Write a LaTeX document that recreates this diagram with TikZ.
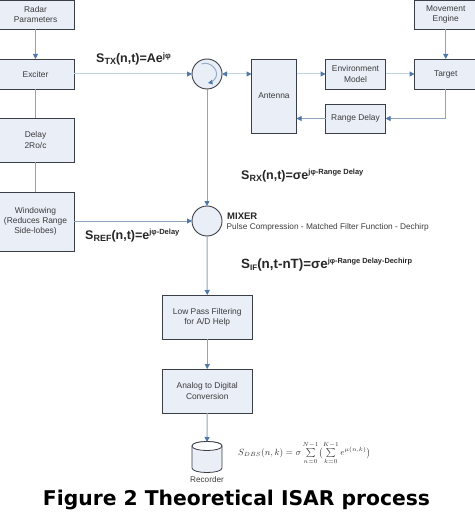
\documentclass[tikz,border=0pt]{standalone}
\usepackage{fontspec}
\usepackage{amsmath}
\setmainfont{Liberation Sans}
\newfontfamily\titlefont{DejaVu Sans}
\usetikzlibrary{arrows.meta,calc}
\definecolor{boxfill}{HTML}{E9EEF7}
\definecolor{boxline}{HTML}{3A3F47}
\definecolor{conn}{HTML}{8FA3BF}
\definecolor{connpale}{HTML}{C3D3E6}
\definecolor{tip}{HTML}{4F78A8}
\definecolor{boxtext}{HTML}{3C3C3C}
\tikzset{
  x=1pt,y=-1pt,
  blockbox/.style={draw=boxline,line width=0.9pt,fill=boxfill,outer sep=0pt,inner sep=0pt,align=center,
    font=\fontsize{8.4}{10.2}\selectfont,text=boxtext},
  roundel/.style={circle,draw=boxline,line width=0.9pt,fill=boxfill,minimum size=30pt,inner sep=0pt,outer sep=0pt},
  wire/.style={draw=conn,line width=1pt},
  palewire/.style={draw=connpale,line width=1pt},
  arrowed/.style={-{Triangle[length=5pt,width=5pt,color=tip]}},
  twoway/.style={{Triangle[length=5pt,width=5pt,color=tip]}-{Triangle[length=5pt,width=5pt,color=tip]}},
  formula/.style={font=\fontsize{12.5}{14}\selectfont\bfseries,anchor=west,inner sep=0pt,text=black!85},
}
\newcommand{\blk}[4]{\node[blockbox,minimum width={(#2)*1pt-(#1)*1pt},minimum height={(#4)*1pt-(#3)*1pt}] at ({(#1+#2)/2},{(#3+#4)/2})}
\begin{document}
\begin{tikzpicture}
\useasboundingbox (0,0) rectangle (474,513);
\blk{-3}{74}{0}{29} (radar) {Radar\\Parameters};
\blk{-3}{74}{59}{89} (exciter) {Exciter};
\blk{-3}{74}{118}{162} (delay) {Delay\\2Ro/c};
\blk{-3}{74}{192}{251} (window) {Windowing\\(Reduces Range\\Side-lobes)};
\blk{251.5}{296.5}{59}{133} (antenna) {Antenna};
\blk{325.5}{385.5}{59}{89} (env) {Environment\\Model};
\blk{325.5}{385.5}{104}{133} (range) {Range Delay};
\blk{414.5}{477}{59}{89} (target) {Target};
\blk{414.5}{477}{0}{29} (engine) {Movement\\Engine};
\blk{162.5}{252}{295}{339} (lpf) {Low Pass Filtering\\for A/D Help};
\blk{162.5}{252}{369}{413} (adc) {Analog to Digital\\Conversion};
\node[roundel] (circ) at (207,74) {};
\node[roundel] (mixer) at (207,221) {};
\coordinate (rec) at (207,442);
% recorder cylinder
\draw[draw=boxline,line width=0.8pt,fill=boxfill]
  (192,446) -- (192,468) .. controls (192,474) and (222,474) .. (222,468) -- (222,446)
  .. controls (222,440) and (192,440) .. (192,446) -- cycle;
\draw[draw=boxline,line width=0.8pt,fill=white]
  (192,446) .. controls (192,452) and (222,452) .. (222,446)
  .. controls (222,440) and (192,440) .. (192,446) -- cycle;
\node[font=\fontsize{8.2}{10}\selectfont,text=boxtext,inner sep=0pt] (rectext) at (207,479.5) {Recorder};
% circulator glyph
\begin{scope}[shift={(circ)}]
\draw[draw=tip!60,line width=1pt,-{Triangle[length=4.5pt,width=4.5pt,color=tip]}]
  (-5.5,-10) .. controls (3,-14) and (15,-2) .. (7,6) .. controls (5.5,7.5) and (3.5,8.5) .. (1,9);
\end{scope}
% connectors
\draw[wire,arrowed] (radar.south) -- (exciter.north);
\draw[wire] (exciter.south) -- (delay.north);
\draw[wire] (delay.south) -- (window.north);
\draw[palewire,arrowed] (exciter.east) -- (circ.west);
\draw[palewire,twoway] (circ.east) -- (circ.east -| antenna.west);
\draw[palewire,arrowed] (antenna.east |- env.west) -- (env.west);
\draw[palewire,arrowed] (env.east) -- (target.west);
\draw[wire,arrowed] (engine.south) -- (target.north);
\draw[wire,arrowed] (target.south) |- (range.east);
\draw[wire,arrowed] (range.west) -- (range.west -| antenna.east);
\draw[wire,arrowed] (circ.south) -- (mixer.north);
\draw[wire,arrowed] (window.east |- mixer.west) -- (mixer.west);
\draw[wire,arrowed] (mixer.south) -- (lpf.north);
\draw[wire,arrowed] (lpf.south) -- (adc.north);
\draw[wire,arrowed] (adc.south) -- (rec);
% formulas
\node[formula] (stx) at (96,59) {S\raisebox{-1.5pt}{\fontsize{9}{9}\selectfont TX}(n,t)=Ae\raisebox{4.5pt}{\fontsize{8}{8}\selectfont jφ}};
\node[formula] (srx) at (241,176) {S\raisebox{-1.5pt}{\fontsize{9}{9}\selectfont RX}(n,t)=σe\raisebox{5pt}{\fontsize{7.5}{7.5}\selectfont jφ-Range Delay}};
\node[formula] (sref) at (85,236) {S\raisebox{-1.5pt}{\fontsize{9}{9}\selectfont REF}(n,t)=e\raisebox{5pt}{\fontsize{7.5}{7.5}\selectfont jφ-Delay}};
\node[formula,font=\fontsize{13.4}{15}\selectfont\bfseries] (sif) at (241,265) {S\raisebox{-1.5pt}{\fontsize{8}{8}\selectfont IF}(n,t-nT)=σe\raisebox{5pt}{\fontsize{7.4}{7.5}\selectfont jφ-Range Delay-Dechirp}};
\node[font=\fontsize{9.5}{10}\selectfont\bfseries,anchor=west,inner sep=0pt,text=black!85] (mixlabel) at (227,216) {MIXER};
\node[font=\fontsize{8.3}{10}\selectfont,anchor=west,inner sep=0pt,text=boxtext] (mixsub) at (226.5,227) {Pulse Compression - Matched Filter Function - Dechirp};
\node[anchor=west,inner sep=0pt,font=\fontsize{9.2}{12}\selectfont,text=black!80] (sdbs) at (238,453)
  {$S_{DBS}(n,k)=\sigma\sum\limits_{n=0}^{N-1}\bigl(\sum\limits_{k=0}^{K-1}e^{\mu(n,k)}\bigr)$};
\node[font=\titlefont\fontsize{20.3}{22}\selectfont\bfseries,inner sep=0pt] (title) at (236.5,500) {Figure 2 Theoretical ISAR process};
\end{tikzpicture}
\end{document}
